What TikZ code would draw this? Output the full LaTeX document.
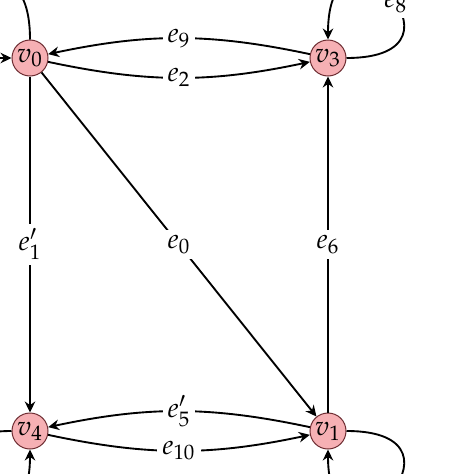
\documentclass[tikz,border=0pt]{standalone}
\usepackage{mathpazo}
\usetikzlibrary{arrows.meta}
\definecolor{nodefill}{RGB}{246,176,180}
\definecolor{nodeline}{RGB}{110,45,50}
\begin{document}
\begin{tikzpicture}[x=0.4pt,y=0.4pt,
  every node/.style={font=\fontsize{11}{13}\selectfont},
  vert/.style={circle,draw=nodeline,line width=0.4pt,fill=nodefill,minimum size=14.4pt,inner sep=0pt},
  edge/.style={line width=0.75pt,-{Stealth[length=4.4pt,width=4.2pt]}},
  lab/.style={fill=white,inner sep=2pt}]
\useasboundingbox (0,0) rectangle (474,-474);
\clip (0,0) rectangle (474,-474);
\node[vert] (v0) at (30,-58) {$v_0$};
\node[vert] (v3) at (328,-58) {$v_3$};
\node[vert] (v4) at (30,-431) {$v_4$};
\node[vert] (v1) at (328,-431) {$v_1$};
% horizontal pairs
\draw[edge] (v3) to[bend right=12] node[lab] {$e_9$} (v0);
\draw[edge] (v0) to[bend right=12] node[lab] {$e_2$} (v3);
\draw[edge] (v1) to[bend right=12] node[lab] {$e_5'$} (v4);
\draw[edge] (v4) to[bend right=12] node[lab] {$e_{10}$} (v1);
% straight edges
\draw[edge] (v0) -- node[lab] {$e_1'$} (v4);
\draw[edge] (v0) -- node[lab] {$e_0$} (v1);
\draw[edge] (v1) -- node[lab] {$e_6$} (v3);
% loops
\draw[edge] (v3.east) .. controls +(140,0) and +(0,140) .. node[lab,pos=0.45] {$e_8$} (v3.north);
\draw[edge] (v1.east) .. controls +(140,0) and +(0,-140) .. (v1.south);
\draw[edge] (v0.north) .. controls +(0,140) and +(-140,0) .. (v0.west);
\draw[edge] (v4.west) .. controls +(-140,0) and +(0,-140) .. (v4.south);
\end{tikzpicture}
\end{document}
